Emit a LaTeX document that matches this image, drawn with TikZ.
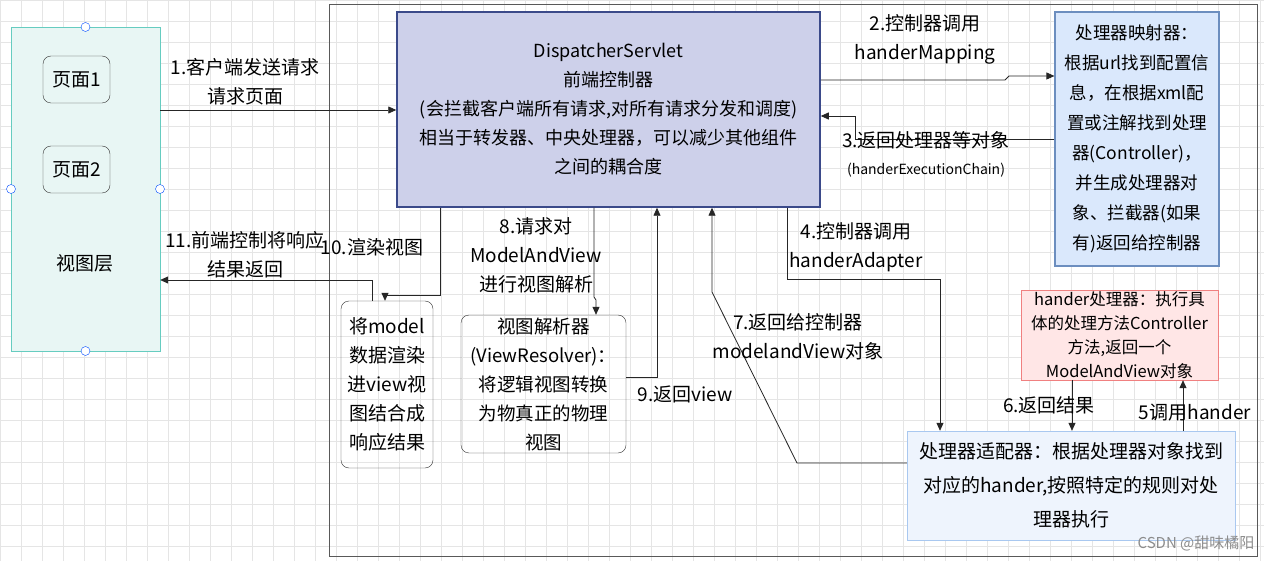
\documentclass[tikz,border=0pt]{standalone}
\usepackage{fontspec}
\setmainfont{Noto Sans CJK SC}
\usetikzlibrary{arrows.meta}
\definecolor{dsfill}{HTML}{CDD0EA}
\definecolor{dsline}{HTML}{3B4A8A}
\definecolor{mapfill}{HTML}{DAE8FC}
\definecolor{mapline}{HTML}{6C8EBF}
\definecolor{hdfill}{HTML}{FFE6E6}
\definecolor{hdline}{HTML}{F08080}
\definecolor{adfill}{HTML}{EEF4FD}
\definecolor{adline}{HTML}{A9C8F0}
\definecolor{vfill}{HTML}{E8F6F4}
\definecolor{vline}{HTML}{66CCC0}
\begin{document}
\begin{tikzpicture}[yscale=-1,x=1pt,y=1pt
  ,box/.style={draw,inner sep=0pt,align=center,font=\fontsize{19}{29}\selectfont}
  ,rbox/.style={box,draw=black!80,rounded corners=8pt}
  ,lbl/.style={align=center,inner sep=0pt,font=\fontsize{19}{29}\selectfont}
  ,arr/.style={draw=black!85,line width=0.8pt,-{Triangle[length=8pt,width=7pt]}}
  ,handle/.style={circle,draw=blue!70!cyan,fill=white,minimum size=9pt,inner sep=0pt}
]
\useasboundingbox (0,0) rectangle (1264,561);
\fill[white] (0,0) rectangle (1264,561);

% --- Grid background ---
\draw[black!10,line width=0.6pt,step=21] (0,0) grid (1264,561);

% --- Outer frame ---
\draw[black!65,line width=1pt] (329,5) rectangle (1257,556);

% --- View layer ---
\node[box,draw=vline,fill=vfill,minimum width=149pt,minimum height=324pt] (view) at (85.5,189) {};
\node[lbl] (viewtxt) at (85,263) {视图层};
\node[rbox,minimum width=67pt,minimum height=47pt] (page1) at (76.5,79.5) {页面1};
\node[rbox,minimum width=67pt,minimum height=47pt] (page2) at (76.5,169.5) {页面2};
\foreach \p in {(85.5,27),(85.5,351),(11,189),(160,189)}
  \node[handle] at \p {};

% --- Main boxes ---
\node[box,draw=dsline,fill=dsfill,line width=1.5pt,minimum width=423pt,minimum height=195pt
  ,font=\fontsize{18}{29}\selectfont] (ds) at (608.5,109.5)
  {DispatcherServlet\\前端控制器\\(会拦截客户端所有请求,对所有请求分发和调度)\\相当于转发器、中央处理器，可以减少其他组件\\之间的耦合度};
\node[box,draw=mapline,fill=mapfill,line width=1.2pt,minimum width=164pt,minimum height=254pt
  ,font=\fontsize{17.5}{30}\selectfont] (map) at (1137,139)
  {处理器映射器：\\根据url找到配置信\\息，在根据xml配\\置或注解找到处理\\器(Controller)，\\并生成处理器对\\象、拦截器(如果\\有)返回给控制器};
\node[box,draw=hdline,fill=hdfill,minimum width=197pt,minimum height=90pt
  ,font=\fontsize{16.5}{24}\selectfont] (hd) at (1119.5,335)
  {hander处理器：执行具\\体的处理方法Controller\\方法,返回一个\\ModelAndView对象};
\node[box,draw=adline,fill=adfill,minimum width=328pt,minimum height=109pt
  ,font=\fontsize{19}{34}\selectfont] (ad) at (1071,485.5)
  {处理器适配器：根据处理器对象找到\\对应的hander,按照特定的规则对处\\理器执行};
\node[rbox,minimum width=92pt,minimum height=167pt] (model) at (387,384.5)
  {将model\\数据渲染\\进view视\\图结合成\\响应结果};
\node[rbox,minimum width=165pt,minimum height=138pt,font=\fontsize{18.5}{29}\selectfont] (vr) at (543.5,384)
  {视图解析器\\(ViewResolver)：\\将逻辑视图转换\\为物真正的物理\\视图};

% --- Connectors ---
\draw[arr] (view.east |- 0,110) -- (ds.west |- 0,110);
\draw[arr] (ds.east |- 0,80) -- (1005,80) -- (1009,76) -- (map.west |- 0,76);
\draw[arr] (map.west |- 0,139) -- (855,139) -- (855,116) -- (ds.east |- 0,116);
\draw[arr] (ds.south -| 787,0) -- (787,279) -- (940,279) -- (ad.north -| 940,0);
\draw[arr] (ad.north -| 1183,0) -- (hd.south -| 1183,0);
\draw[arr] (hd.south -| 1072,0) -- (ad.north -| 1072,0);
\draw[arr] (ad.west |- 0,463) -- (797,463) -- (712,292) -- (ds.south -| 712,0);
\draw[arr] (ds.south -| 594,0) -- (594,297) -- (596,300) -- (vr.north -| 596,0);
\draw[arr] (vr.east |- 0,377) -- (657,377) -- (ds.south -| 657,0);
\draw[arr] (ds.south -| 440,0) -- (440,295) -- (385,295) -- (model.north -| 385,0);
\draw[arr] (model.north -| 372,0) -- (372,280) -- (view.east |- 0,280);

% --- Labels ---
\node[lbl] (l1) at (245,82) {1.客户端发送请求\\请求页面};
\node[lbl] (l2) at (925,39) {2.控制器调用\\handerMapping};
\node[lbl] (l3) at (926,140) {3.返回处理器等对象};
\node[lbl,font=\fontsize{14}{17}\selectfont] (l3b) at (926,170) {(handerExecutionChain)};
\node[lbl] (l4) at (856,247) {4.控制器调用\\handerAdapter};
\node[lbl] (l5) at (1195,413) {5调用hander};
\node[lbl] (l6) at (1049,405) {6.返回结果};
\node[lbl] (l7) at (798,337) {7.返回给控制器\\modelandView对象};
\node[lbl] (l8) at (536,255) {8.请求对\\ModelAndView\\进行视图解析};
\node[lbl] (l9) at (685,394) {9.返回view};
\node[lbl] (l10) at (372,247) {10.渲染视图};
\node[lbl] (l11) at (245,255) {11.前端控制将响应\\结果返回};
\node[lbl,text=black!45,font=\fontsize{15}{18}\selectfont] (wm) at (1196,543) {CSDN @甜味橘阳};
\end{tikzpicture}
\end{document}
